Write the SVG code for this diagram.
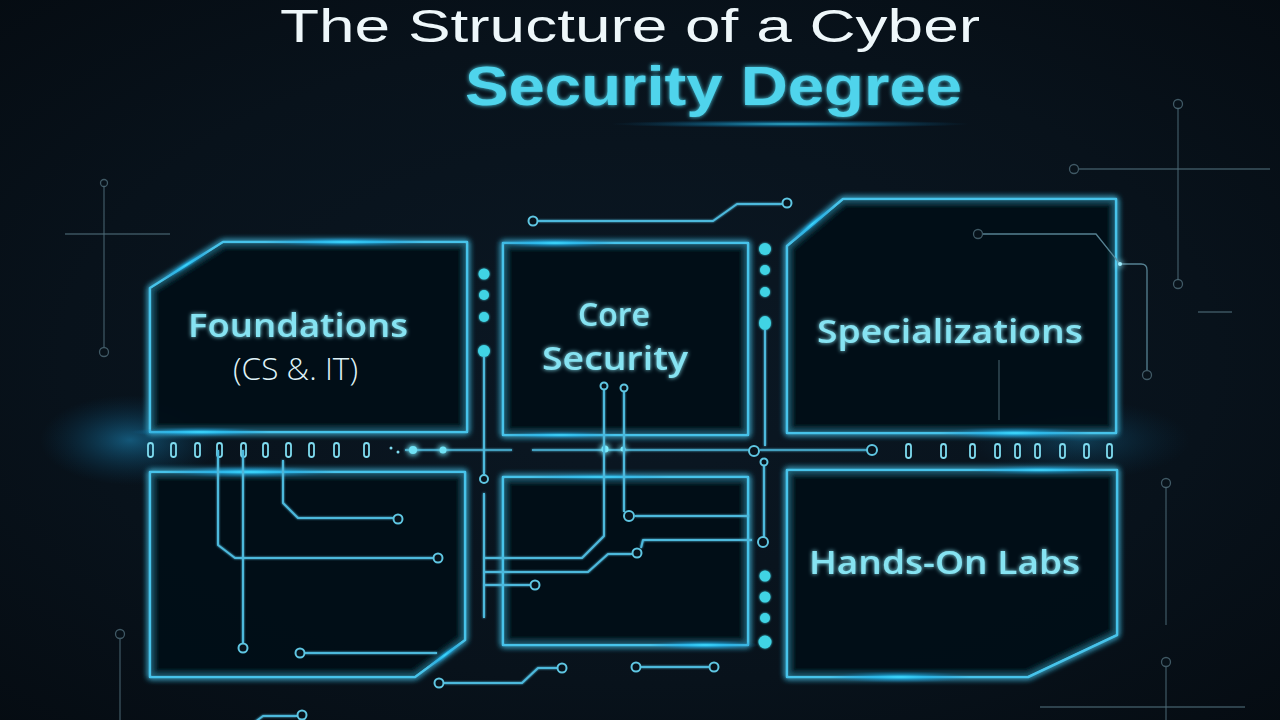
<svg xmlns="http://www.w3.org/2000/svg" width="1280" height="720" viewBox="0 0 1280 720">
<defs>
  <radialGradient id="bg" cx="0.5" cy="0.5" r="0.75">
    <stop offset="0" stop-color="#0b1824"/>
    <stop offset="0.6" stop-color="#08121b"/>
    <stop offset="1" stop-color="#050b11"/>
  </radialGradient>
  <radialGradient id="spot" cx="0.5" cy="0.5" r="0.5">
    <stop offset="0" stop-color="#3fdcff" stop-opacity="1"/>
    <stop offset="0.4" stop-color="#1aaee8" stop-opacity="0.55"/>
    <stop offset="1" stop-color="#0a6fa8" stop-opacity="0"/>
  </radialGradient>
  <radialGradient id="haze" cx="0.5" cy="0.5" r="0.5">
    <stop offset="0" stop-color="#1d8fc4" stop-opacity="0.55"/>
    <stop offset="1" stop-color="#0a4a70" stop-opacity="0"/>
  </radialGradient>
  <filter id="glow" filterUnits="userSpaceOnUse" x="0" y="0" width="1280" height="720">
    <feGaussianBlur in="SourceGraphic" stdDeviation="3" result="b"/>
    <feMerge><feMergeNode in="b"/><feMergeNode in="b"/><feMergeNode in="SourceGraphic"/></feMerge>
  </filter>
  <filter id="soft" filterUnits="userSpaceOnUse" x="0" y="0" width="1280" height="720">
    <feGaussianBlur in="SourceGraphic" stdDeviation="1.2" result="b"/>
    <feMerge><feMergeNode in="b"/><feMergeNode in="SourceGraphic"/></feMerge>
  </filter>
  <filter id="tglow" filterUnits="userSpaceOnUse" x="0" y="0" width="1280" height="720">
    <feGaussianBlur in="SourceGraphic" stdDeviation="2" result="b"/>
    <feMerge><feMergeNode in="b"/><feMergeNode in="SourceGraphic"/></feMerge>
  </filter>
  <style>
    .panel{fill:#07121b;fill-opacity:0.6;stroke:#46c3ea;stroke-width:2.6;stroke-linejoin:round;filter:url(#glow)}
    .trace{fill:none;stroke:#4db9dc;stroke-width:2;stroke-linejoin:round;filter:url(#soft)}
    .pad{fill:#08131c;stroke:#5fc6e2;stroke-width:2}
    .faint{fill:none;stroke:#4e6b78;stroke-width:1.3;opacity:0.75}
    .fpad{fill:#08121a;stroke:#4e6b78;stroke-width:1.3;opacity:0.8}
    .dot{fill:#3fd3e4;filter:url(#soft)}
    .cap{fill:none;stroke:#7fdcf0;stroke-width:1.8}
    .lbl{font-family:"Open Sans","Lato","Liberation Sans",sans-serif;font-weight:600;fill:#86e3f2;filter:url(#tglow)}
    .sub{font-family:"Open Sans","Lato","Liberation Sans",sans-serif;font-weight:300;fill:#dff2f7}
  </style>
</defs>

<rect width="1280" height="720" fill="url(#bg)"/>
<ellipse cx="130" cy="440" rx="90" ry="45" fill="url(#haze)"/>
<ellipse cx="1080" cy="440" rx="110" ry="40" fill="url(#haze)" opacity="0.6"/>

<!-- Title -->
<g id="title">
  <text x="280" y="42" font-family="'Liberation Sans',Arial,sans-serif" font-weight="400" font-size="46" fill="#eef7fa" textLength="700" lengthAdjust="spacingAndGlyphs">The Structure of a Cyber</text>
  <text x="465" y="105" font-family="'Liberation Sans',Arial,sans-serif" font-weight="700" font-size="56" fill="#4fd4ec" textLength="497" lengthAdjust="spacingAndGlyphs" filter="url(#tglow)">Security Degree</text>
  <ellipse cx="790" cy="124" rx="180" ry="4" fill="url(#spot)" opacity="0.8"/>
</g>

<!-- Background decorations -->
<g id="decor">
  <line class="faint" x1="104" y1="186" x2="104" y2="347"/>
  <circle class="fpad" cx="104" cy="183" r="3.5"/>
  <circle class="fpad" cx="104" cy="352" r="4.5"/>
  <line class="faint" x1="65" y1="234" x2="170" y2="234"/>
  <line class="faint" x1="120" y1="639" x2="120" y2="720"/>
  <circle class="fpad" cx="120" cy="634" r="4.5"/>
  <line class="faint" x1="1178" y1="108" x2="1178" y2="280"/>
  <circle class="fpad" cx="1178" cy="104" r="4.5"/>
  <circle class="fpad" cx="1178" cy="284" r="4.5"/>
  <line class="faint" x1="1079" y1="169" x2="1270" y2="169"/>
  <circle class="fpad" cx="1074" cy="169" r="4.5"/>
  <line class="faint" x1="1198" y1="312" x2="1232" y2="312"/>
  <line class="faint" x1="1166" y1="487" x2="1166" y2="625"/>
  <circle class="fpad" cx="1166" cy="483" r="4.5"/>
  <circle class="fpad" cx="1166" cy="662" r="4.5"/>
  <line class="faint" x1="1166" y1="667" x2="1166" y2="720"/>
  <line class="faint" x1="1040" y1="707" x2="1245" y2="707"/>
</g>

<!-- Panels -->
<g id="node-foundations">
  <path class="panel" d="M150,288 L223,242 H467 V432 H150 Z"/>
  <ellipse cx="345" cy="242" rx="80" ry="5" fill="url(#spot)"/>
  <ellipse cx="200" cy="432" rx="70" ry="5" fill="url(#spot)"/>
  <ellipse cx="186" cy="265" rx="30" ry="4" fill="url(#spot)" transform="rotate(-32 186 265)"/>
  <text class="lbl" x="188" y="337" font-size="32" textLength="220" lengthAdjust="spacingAndGlyphs">Foundations</text>
  <text class="sub" x="233" y="380" font-size="31" textLength="125" lengthAdjust="spacingAndGlyphs">(CS &amp;. IT)</text>
</g>

<g id="node-core-security">
  <rect class="panel" x="503" y="243" width="245" height="192"/>
  <ellipse cx="555" cy="243" rx="60" ry="5" fill="url(#spot)"/>
  <ellipse cx="560" cy="435" rx="55" ry="4" fill="url(#spot)" opacity="0.8"/>
  <text class="lbl" x="614" y="326" font-size="32" text-anchor="middle">Core</text>
  <text class="lbl" x="615" y="370" font-size="32" text-anchor="middle" textLength="146" lengthAdjust="spacingAndGlyphs">Security</text>
</g>

<g id="node-specializations">
  <path class="panel" d="M787,246 L843,199 H1116 V433 H787 Z"/>
  <ellipse cx="1015" cy="433" rx="75" ry="6" fill="url(#spot)"/>
  <ellipse cx="812" cy="224" rx="30" ry="4" fill="url(#spot)" transform="rotate(-40 812 224)"/>
  <text class="lbl" x="817" y="343" font-size="33" textLength="266" lengthAdjust="spacingAndGlyphs">Specializations</text>
</g>

<g id="node-panel-bl">
  <path class="panel" d="M150,472 H465 V640 L415,677 H150 Z"/>
  <ellipse cx="250" cy="472" rx="85" ry="6" fill="url(#spot)"/>
  <ellipse cx="445" cy="655" rx="22" ry="4" fill="url(#spot)" transform="rotate(-37 445 655)"/>
</g>

<g id="node-panel-bm">
  <rect class="panel" x="503" y="477" width="245" height="168"/>
  <ellipse cx="600" cy="477" rx="70" ry="4" fill="url(#spot)" opacity="0.6"/>
  <ellipse cx="705" cy="645" rx="55" ry="5" fill="url(#spot)"/>
</g>

<g id="node-hands-on-labs">
  <path class="panel" d="M787,470 H1117 V635 L1028,677 H787 Z"/>
  <ellipse cx="1040" cy="470" rx="70" ry="5" fill="url(#spot)" opacity="0.8"/>
  <ellipse cx="900" cy="677" rx="70" ry="6" fill="url(#spot)"/>
  <text class="lbl" x="809" y="574" font-size="33" textLength="271" lengthAdjust="spacingAndGlyphs">Hands-On Labs</text>
</g>

<!-- Connectors / circuit traces -->
<g id="connectors">
  <line class="faint" x1="999" y1="360" x2="999" y2="420"/>
  <!-- top trace -->
  <path class="trace" d="M538,221 H713 L737,204 H782"/>
  <circle class="pad" cx="533" cy="221" r="4.5"/>
  <circle class="pad" cx="787" cy="203" r="4.5"/>
  <!-- specializations inner trace -->
  <path class="faint" d="M983,234 H1096 L1120,264 H1141 Q1147,264 1147,270 V370" style="stroke:#5f8ea0;opacity:0.9"/>
  <circle class="fpad" cx="978" cy="234" r="4.5"/>
  <circle class="fpad" cx="1147" cy="375" r="4.5"/>
  <circle cx="1120" cy="264" r="2" fill="#9fefff" filter="url(#glow)"/>
  <!-- vertical dot columns -->
  <circle class="dot" cx="484" cy="274" r="5.5"/>
  <circle class="dot" cx="484" cy="295" r="5"/>
  <circle class="dot" cx="484" cy="317" r="5"/>
  <circle class="dot" cx="484" cy="351" r="6"/>
  <path class="trace" d="M484,357 V474"/>
  <circle class="pad" cx="484" cy="479" r="4"/>
  <circle class="dot" cx="765" cy="249" r="6"/>
  <circle class="dot" cx="765" cy="270" r="5"/>
  <circle class="dot" cx="765" cy="292" r="5"/>
  <ellipse class="dot" cx="765" cy="323" rx="6" ry="7"/>
  <path class="trace" d="M765,330 V446"/>
  <circle class="dot" cx="765" cy="576" r="5.5"/>
  <circle class="dot" cx="765" cy="597" r="5.5"/>
  <circle class="dot" cx="765" cy="618" r="5"/>
  <circle class="dot" cx="765" cy="642" r="6.5"/>
  <!-- horizontal bus at y 450 -->
  <path class="trace" d="M405,450 H512 M532,450 H749 M760,450 H867" opacity="0.85"/>
  <circle class="pad" cx="754" cy="451" r="5"/>
  <circle class="pad" cx="872" cy="450" r="5"/>
  <!-- capsules -->
  <g class="cap">
    <rect x="148" y="443" width="5" height="14" rx="2.5"/>
    <rect x="171" y="443" width="5" height="14" rx="2.5"/>
    <rect x="195" y="443" width="5" height="14" rx="2.5"/>
    <rect x="217" y="443" width="5" height="14" rx="2.5"/>
    <rect x="241" y="443" width="5" height="14" rx="2.5"/>
    <rect x="263" y="443" width="5" height="14" rx="2.5"/>
    <rect x="286" y="443" width="5" height="14" rx="2.5"/>
    <rect x="309" y="443" width="5" height="14" rx="2.5"/>
    <rect x="334" y="443" width="5" height="14" rx="2.5"/>
    <rect x="364" y="443" width="5" height="14" rx="2.5"/>
    <rect x="906" y="444" width="5" height="14" rx="2.5"/>
    <rect x="941" y="444" width="5" height="14" rx="2.5"/>
    <rect x="970" y="444" width="5" height="14" rx="2.5"/>
    <rect x="995" y="444" width="5" height="14" rx="2.5"/>
    <rect x="1015" y="444" width="5" height="14" rx="2.5"/>
    <rect x="1035" y="444" width="5" height="14" rx="2.5"/>
    <rect x="1060" y="444" width="5" height="14" rx="2.5"/>
    <rect x="1084" y="444" width="5" height="14" rx="2.5"/>
    <rect x="1107" y="444" width="5" height="14" rx="2.5"/>
  </g>
  <circle cx="391" cy="448" r="1.5" fill="#7fdcf0"/>
  <circle cx="398" cy="452" r="1.5" fill="#7fdcf0"/>
  <circle cx="413" cy="450" r="4" fill="#6fe2f5" filter="url(#glow)"/>
  <circle cx="443" cy="450" r="3.5" fill="#6fe2f5" filter="url(#glow)"/>
  <circle cx="605" cy="449" r="3.5" fill="#7ff0ff" filter="url(#glow)"/>
  <circle cx="623" cy="449" r="2.5" fill="#7ff0ff" filter="url(#glow)"/>
  <!-- lower-left panel traces -->
  <path class="trace" d="M218,450 V545 L235,558 H433"/>
  <circle class="pad" cx="438" cy="558" r="4.5"/>
  <path class="trace" d="M243,450 V643"/>
  <circle class="pad" cx="243" cy="648" r="4.5"/>
  <path class="trace" d="M283,460 V503 L298,518 H393"/>
  <circle class="pad" cx="398" cy="519" r="4.5"/>
  <path class="trace" d="M305,653 H437"/>
  <circle class="pad" cx="300" cy="653" r="4.5"/>
  <path class="trace" d="M444,683 H522 L538,668 H557"/>
  <circle class="pad" cx="439" cy="683" r="4.5"/>
  <circle class="pad" cx="562" cy="668" r="4.5"/>
  <path class="trace" d="M297,716 H263 L255,722"/>
  <circle class="pad" cx="302" cy="715" r="4.5"/>
  <!-- lower-middle traces -->
  <path class="trace" d="M484,493 V618"/>
  <path class="trace" d="M484,558 H582 L604,536 V390"/>
  <circle class="pad" cx="604" cy="386" r="3.5"/>
  <path class="trace" d="M624,392 V512"/>
  <circle class="pad" cx="624" cy="388" r="3.5"/>
  <circle class="pad" cx="629" cy="516" r="5"/>
  <path class="trace" d="M635,516 H749"/>
  <path class="trace" d="M484,572 H588 L608,554 H632"/>
  <circle class="pad" cx="637" cy="553" r="4.5"/>
  <path class="trace" d="M641,548 L643,540 H752"/>
  <path class="trace" d="M764,466 V537"/>
  <circle class="pad" cx="764" cy="462" r="3.5"/>
  <circle class="pad" cx="763" cy="542" r="5"/>
  <path class="trace" d="M484,585 H530"/>
  <circle class="pad" cx="535" cy="585" r="4.5"/>
  <path class="trace" d="M641,667 H709"/>
  <circle class="pad" cx="636" cy="667" r="4.5"/>
  <circle class="pad" cx="714" cy="667" r="4.5"/>
</g>
</svg>
